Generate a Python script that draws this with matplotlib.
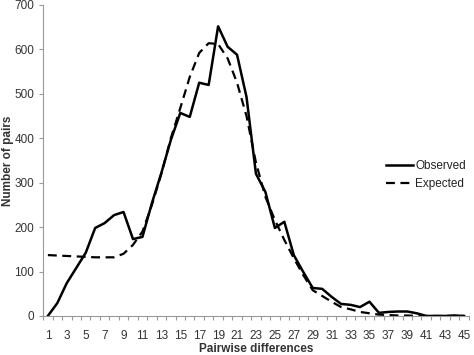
import matplotlib
matplotlib.use("Agg")
import matplotlib.pyplot as plt
from matplotlib.ticker import MultipleLocator, FixedLocator

plt.rcParams['font.family'] = ['Liberation Sans', 'DejaVu Sans']

# pairwise differences 1..45
diffs = list(range(1, 46))
observed = [0, 29, 74, 108, 142, 198, 209, 227, 234, 173,
            178, 254, 322, 396, 457, 448, 525, 520, 652, 606,
            588, 493, 320, 279, 198, 212, 137, 99, 63, 61,
            43, 27, 25, 20, 32, 7, 9, 10, 10, 6,
            0, 0, 0, 1, 0]
expected = [137, 136, 135, 134, 133, 132, 132, 132, 140, 160,
            190, 250, 320, 400, 468, 538, 592, 614, 612, 580,
            525, 450, 345, 268, 216, 171, 130, 92, 58, 45,
            32, 20, 15, 9, 6, 3, 2, 1, 1, 0,
            0, 0, 0, 0, 0]
tick_labels = [str(d) for d in diffs if d % 2 == 1]

fig = plt.figure(figsize=(4.74, 3.55), dpi=100)
ax = fig.add_axes([0.091, 0.110, 0.898, 0.876])

ax.plot(diffs, observed, color='black', lw=1.8, label='Observed')
ax.plot(diffs, expected, color='black', lw=1.6, ls=(0, (4, 2.5)), label='Expected')

ax.set_xlim(0.5, 45.5)
ax.set_ylim(0, 700)
ax.yaxis.set_major_locator(MultipleLocator(100))
ax.xaxis.set_major_locator(FixedLocator([d for d in diffs if d % 2 == 1]))
ax.set_xticklabels(tick_labels)
ax.xaxis.set_minor_locator(FixedLocator([d + 0.5 for d in range(0, 46)]))
ax.tick_params(axis='x', which='major', length=0, labelsize=8.5, colors='#333333', pad=10)
ax.tick_params(axis='x', which='minor', length=3, color='#999999', width=0.8)
ax.tick_params(axis='y', length=3, color='#999999', width=0.8, labelsize=8.5, labelcolor='#333333')

for s in ['top', 'right']:
    ax.spines[s].set_visible(False)
for s in ['left', 'bottom']:
    ax.spines[s].set_color('#999999')
    ax.spines[s].set_linewidth(0.8)

ax.set_ylabel('Number of pairs', fontsize=8.5, fontweight='bold', color='#333333')
ax.yaxis.set_label_coords(-0.068, 0.5)
ax.set_xlabel('Pairwise differences', fontsize=8.5, fontweight='bold', color='#333333')
ax.xaxis.set_label_coords(0.5, -0.088)

ax.legend(loc='center left', bbox_to_anchor=(0.78, 0.454), frameon=False, fontsize=8.5,
          handlelength=2.3, handletextpad=0.2, labelspacing=0.5, labelcolor='#222222')

fig.savefig('out.png', dpi=100)
